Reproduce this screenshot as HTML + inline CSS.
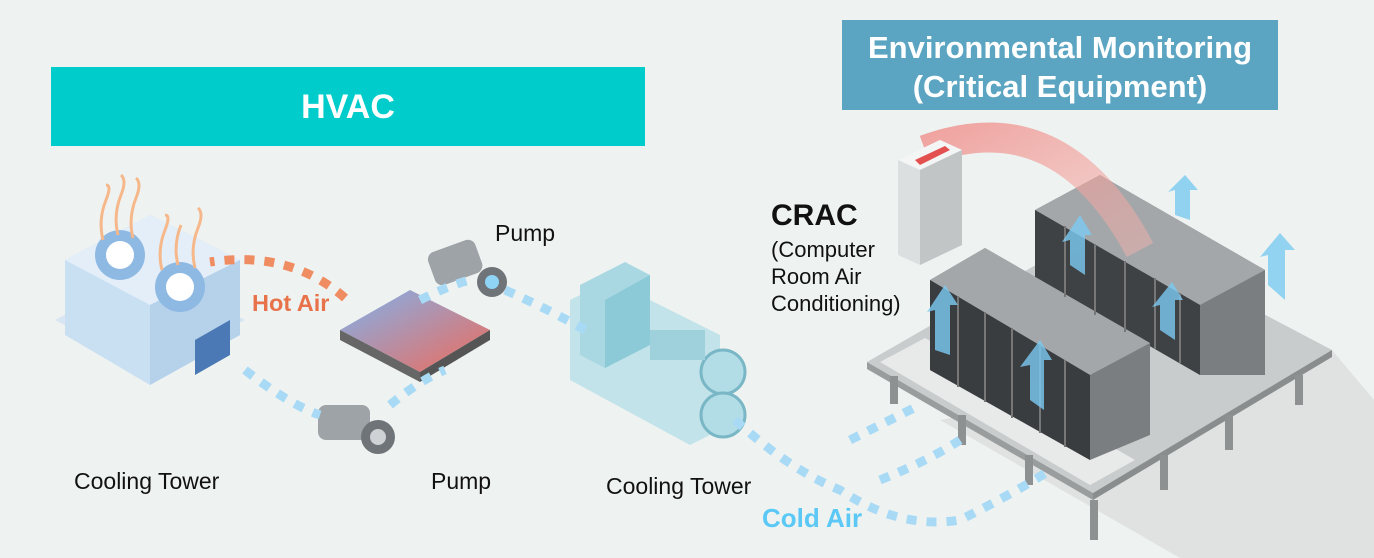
<!DOCTYPE html>
<html><head><meta charset="utf-8"><style>
html,body{margin:0;padding:0;background:#eef3f1;}
body{width:1374px;height:558px;overflow:hidden;position:relative;font-family:"Liberation Sans",Arial,sans-serif;}
.t{position:absolute;color:#111;font-size:23px;white-space:nowrap;}
</style></head><body>
<svg width="1374" height="558" style="position:absolute;left:0;top:0">
<defs>
<linearGradient id="phe" x1="0" y1="0" x2="1" y2="1"><stop offset="0" stop-color="#7fb2ee"/><stop offset="1" stop-color="#ef6b5a"/></linearGradient>
<linearGradient id="arc" x1="0" y1="0" x2="1" y2="1"><stop offset="0" stop-color="#f08a86"/><stop offset="1" stop-color="#f6b3ae" stop-opacity=".6"/></linearGradient>
</defs>
<rect x="51" y="67" width="594" height="79" fill="#00cccc"/>
<rect x="842" y="20" width="436" height="90" fill="#5ba5c2"/>
<!-- platform -->
<polygon points="940,420 1332,350 1374,400 1374,558 1180,558" fill="#dfe2e1"/>
<polygon points="867,362 1100,228 1332,350 1093,493" fill="#c9cccc"/>
<polygon points="867,362 1093,493 1093,500 867,369" fill="#9a9d9d"/>
<polygon points="1093,493 1332,350 1332,357 1093,500" fill="#8a8d8d"/>
<g fill="#8e9191">
<rect x="890" y="376" width="8" height="28"/><rect x="958" y="415" width="8" height="30"/><rect x="1025" y="455" width="8" height="30"/><rect x="1090" y="500" width="8" height="40"/><rect x="1160" y="455" width="8" height="35"/><rect x="1225" y="415" width="8" height="35"/><rect x="1295" y="375" width="8" height="30"/><rect x="1005" y="385" width="8" height="25"/>
</g>
<polygon points="880,362 1090,485 1135,460 925,338" fill="#e8eaea"/>
<!-- back row -->
<polygon points="1035,210 1100,175 1265,270 1265,375 1200,375 1035,280" fill="#7b7e80"/>
<polygon points="1035,210 1100,175 1265,270 1200,305" fill="#a4a7a9"/>
<polygon points="1035,210 1200,305 1200,375 1035,280" fill="#3f4245"/>
<!-- front row -->
<polygon points="930,280 985,248 1150,343 1150,435 1090,460 930,370" fill="#7b7e80"/>
<polygon points="930,280 985,248 1150,343 1090,375" fill="#a4a7a9"/>
<polygon points="930,280 1090,375 1090,460 930,370" fill="#3a3d40"/>
<g stroke="#777" stroke-width="2"><line x1="958" y1="296" x2="958" y2="387"/><line x1="985" y1="312" x2="985" y2="402"/><line x1="1012" y1="328" x2="1012" y2="418"/><line x1="1040" y1="344" x2="1040" y2="433"/><line x1="1065" y1="360" x2="1065" y2="447"/>
<line x1="1065" y1="226" x2="1065" y2="297"/><line x1="1095" y1="244" x2="1095" y2="315"/><line x1="1125" y1="261" x2="1125" y2="332"/><line x1="1155" y1="278" x2="1155" y2="349"/><line x1="1180" y1="293" x2="1180" y2="363"/></g>
<!-- red arc -->
<path d="M925,150 Q1060,100 1140,250" stroke="url(#arc)" stroke-width="30" fill="none" opacity=".75"/>
<!-- CRAC unit -->
<polygon points="898,160 940,140 962,150 962,245 920,265 898,255" fill="#dcdfe0"/>
<polygon points="898,160 940,140 962,150 920,170" fill="#f4f5f5"/>
<polygon points="920,170 962,150 962,245 920,265" fill="#c2c5c6"/>
<polygon points="915,160 945,146 950,150 920,165" fill="#e35050"/>
<!-- blue up arrows -->
<g fill="#7ccaf2" opacity=".8">
<path d="M935,350 L935,310 L927,312 L945,285 L958,305 L950,305 L950,355Z"/>
<path d="M1030,400 L1030,365 L1020,367 L1040,340 L1052,360 L1044,360 L1044,410Z"/>
<path d="M1070,265 L1070,240 L1062,242 L1080,215 L1092,235 L1085,235 L1085,275Z"/>
<path d="M1160,330 L1160,305 L1152,307 L1172,282 L1183,300 L1175,300 L1175,340Z"/>
<path d="M1175,215 L1175,190 L1168,192 L1185,175 L1198,190 L1190,190 L1190,220Z"/>
<path d="M1268,285 L1268,255 L1260,257 L1280,233 L1295,250 L1285,250 L1285,300Z"/>
</g>
<!-- cooling tower left -->
<polygon points="55,320 150,270 245,320 150,370" fill="#d7e6f2"/>
<polygon points="65,260 150,215 240,260 240,335 150,385 65,335" fill="#c9dff2"/>
<polygon points="65,260 150,215 240,260 150,305" fill="#e3eef8"/>
<polygon points="150,305 240,260 240,335 150,385" fill="#b6d1ea"/>
<polygon points="195,340 230,320 230,355 195,375" fill="#4a79b5"/>
<circle cx="120" cy="255" r="25" fill="#8eb9e3"/><circle cx="120" cy="255" r="14" fill="#fff"/>
<circle cx="180" cy="287" r="25" fill="#8eb9e3"/><circle cx="180" cy="287" r="14" fill="#fff"/>
<g stroke="#f6b88a" stroke-width="3" fill="none"><path d="M103,240 q-5,-20 3,-40 q6,-15 0,-15"/><path d="M118,235 q-5,-20 3,-40 q6,-15 0,-20"/><path d="M133,238 q-5,-20 3,-40 q6,-15 0,-20"/><path d="M162,270 q-5,-20 3,-40 q6,-15 0,-15"/><path d="M178,265 q-5,-20 3,-40"/><path d="M195,268 q-5,-20 3,-40 q6,-15 0,-20"/></g>
<!-- plate heat exchanger -->
<polygon points="340,330 410,290 490,330 420,372" fill="url(#phe)"/>
<polygon points="340,330 420,372 420,382 340,340" fill="#666"/>
<polygon points="420,372 490,330 490,340 420,382" fill="#555"/>
<!-- pumps -->
<g><rect x="430" y="245" width="50" height="35" rx="8" fill="#9ea3a7" transform="rotate(-20 455 262)"/><circle cx="492" cy="282" r="15" fill="#6f7478"/><circle cx="492" cy="282" r="7" fill="#8fd3f5"/></g>
<g><rect x="318" y="405" width="52" height="35" rx="8" fill="#9ea3a7"/><circle cx="378" cy="437" r="17" fill="#6f7478"/><circle cx="378" cy="437" r="8" fill="#cfd2d4"/></g>
<!-- chiller -->
<polygon points="570,300 610,280 720,335 720,430 690,445 570,380" fill="#c3e3ea"/>
<polygon points="580,285 625,262 650,275 650,345 605,368 580,355" fill="#a9d8e3"/>
<polygon points="605,300 650,275 650,345 605,368" fill="#8ccad8"/>
<circle cx="723" cy="372" r="22" fill="#b3dde6" stroke="#7ab7c6" stroke-width="3"/>
<circle cx="723" cy="415" r="22" fill="#b3dde6" stroke="#7ab7c6" stroke-width="3"/>
<rect x="650" y="330" width="55" height="30" fill="#9fd1dd"/>
<!-- dashed arrows -->
<g fill="none" stroke-width="9" stroke-dasharray="10 10">
<path d="M345,298 Q290,250 210,262" stroke="#f08c62"/>
<path d="M245,370 Q290,405 320,415" stroke="#a9daf5"/>
<path d="M390,405 Q420,380 445,370" stroke="#a9daf5"/>
<path d="M420,300 Q450,285 470,280" stroke="#a9daf5"/>
<path d="M505,290 Q550,310 585,330" stroke="#a9daf5"/>
<path d="M735,420 Q790,470 840,490 Q900,530 960,520 Q1020,490 1050,470" stroke="#a9daf5"/>
<path d="M850,440 Q890,420 920,405" stroke="#a9daf5"/>
<path d="M880,480 Q930,460 960,440" stroke="#a9daf5"/>
</g>
</svg>
<div class="t" style="left:0;width:696px;top:88px;text-align:center;color:#fff;font-weight:bold;font-size:34px">HVAC</div>
<div class="t" style="left:842px;width:436px;top:28px;text-align:center;color:#fff;font-weight:bold;font-size:31px;line-height:39px">Environmental Monitoring<br>(Critical Equipment)</div>
<div class="t" style="left:74px;top:468px">Cooling Tower</div>
<div class="t" style="left:431px;top:468px">Pump</div>
<div class="t" style="left:495px;top:220px">Pump</div>
<div class="t" style="left:606px;top:473px">Cooling Tower</div>
<div class="t" style="left:252px;top:290px;color:#e8734a;font-weight:bold;font-size:23.5px">Hot Air</div>
<div class="t" style="left:762px;top:503px;color:#5bc8f5;font-weight:bold;font-size:26px">Cold Air</div>
<div class="t" style="left:771px;top:199px;font-weight:bold;font-size:30px">CRAC</div>
<div class="t" style="left:771px;top:236px;font-size:22px;line-height:27px">(Computer<br>Room Air<br>Conditioning)</div>
</body></html>
